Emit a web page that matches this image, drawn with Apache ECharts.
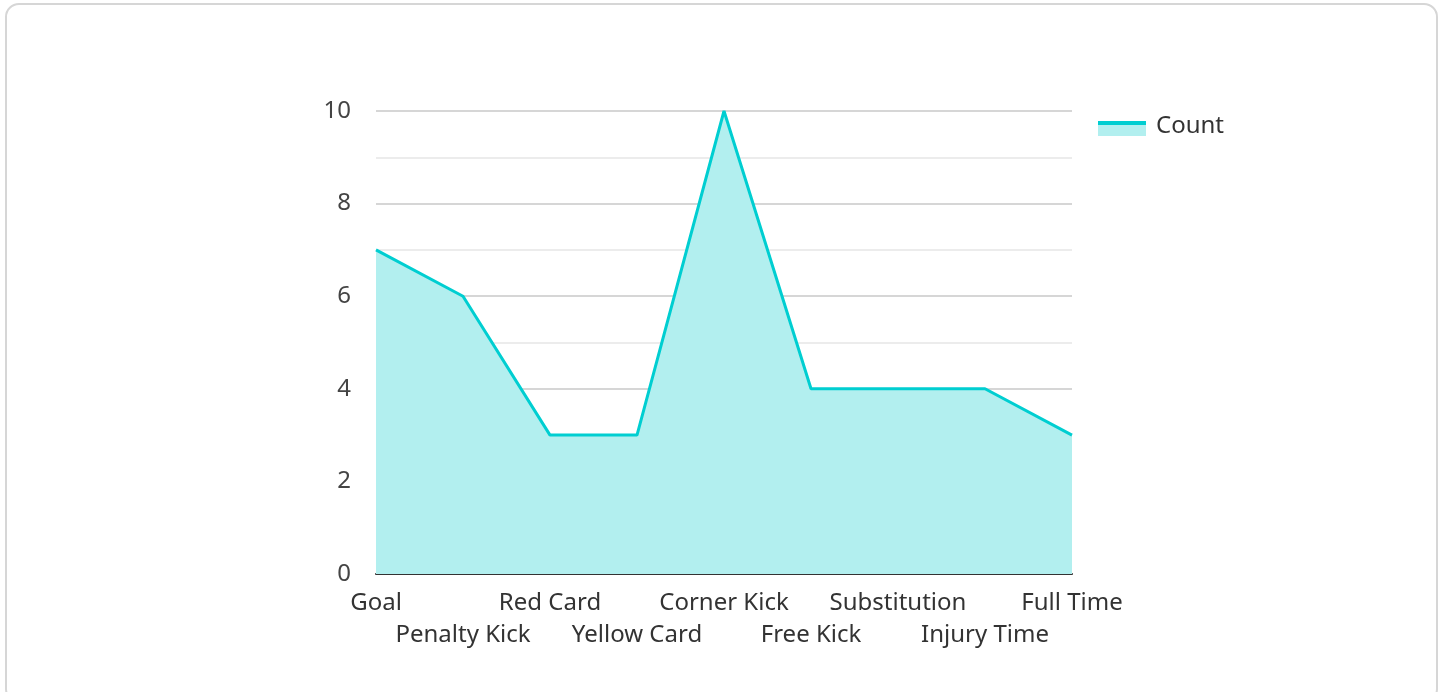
<!DOCTYPE html>
<html>
<head>
<meta charset="utf-8">
<script src="https://cdn.jsdelivr.net/npm/echarts@6/dist/echarts.min.js"></script>
<style>
html,body{margin:0;padding:0;background:#fff;width:1445px;height:692px;overflow:hidden;}
#card{position:absolute;left:5px;top:3px;width:1433px;height:700px;border:2px solid #d6d6d6;border-radius:14px;box-sizing:border-box;}
#chart{position:absolute;left:0;top:0;width:1445px;height:692px;}
</style>
</head>
<body>
<div id="card"></div>
<div id="chart"></div>
<script>
const categories = ['Goal','Penalty Kick','Red Card','Yellow Card','Corner Kick','Free Kick','Substitution','Injury Time','Full Time'];
const counts = [7,6,3,3,10,4,4,4,3];
const seriesName = 'Count';

const chart = echarts.init(document.getElementById('chart'), null, {renderer:'canvas'});
const FONT = '"Noto Sans", "Open Sans", sans-serif';
chart.setOption({
  animation:false,
  textStyle:{fontFamily:FONT},
  grid:{left:376,right:373,top:111,bottom:118,containLabel:false},
  legend:{
    data:[seriesName],
    left:1098, top:109,
    icon:'rect', itemWidth:48, itemHeight:16, itemGap:10,
    itemStyle:{opacity:0},
    textStyle:{fontSize:24,lineHeight:24,color:'#333',fontFamily:FONT}
  },
  graphic:[
    {type:'rect',shape:{x:1098,y:125,width:48,height:11},style:{fill:'#b2efef'},silent:true,z:100},
    {type:'rect',shape:{x:1098,y:121,width:48,height:4},style:{fill:'#00ced1'},silent:true,z:101}
  ],
  xAxis:{
    type:'category', data:categories, boundaryGap:false,
    axisLine:{lineStyle:{color:'#333',width:2}},
    axisTick:{show:false},
    axisLabel:{
      interval:0, fontSize:24, color:'#333', fontFamily:FONT, margin:13, lineHeight:32,
      formatter:(v,i)=> i%2===1 ? '\n'+v : v
    },
    splitLine:{show:false}
  },
  yAxis:{
    type:'value', min:0, max:10, interval:2,
    axisLine:{show:false}, axisTick:{show:false},
    axisLabel:{fontSize:24,color:'#444',fontFamily:FONT,margin:25},
    splitLine:{lineStyle:{color:'#c8c8c8',width:1.5}},
    minorTick:{show:false, splitNumber:2},
    minorSplitLine:{show:true,lineStyle:{color:'#e6e6e6',width:1.5}}
  },
  series:[{
    name:seriesName, type:'line', data:counts,
    showSymbol:false, symbol:'none',
    lineStyle:{color:'#00ced1',width:3},
    itemStyle:{color:'#00ced1'},
    areaStyle:{color:'#b2efef',opacity:1}
  }]
});
</script>
</body>
</html>
